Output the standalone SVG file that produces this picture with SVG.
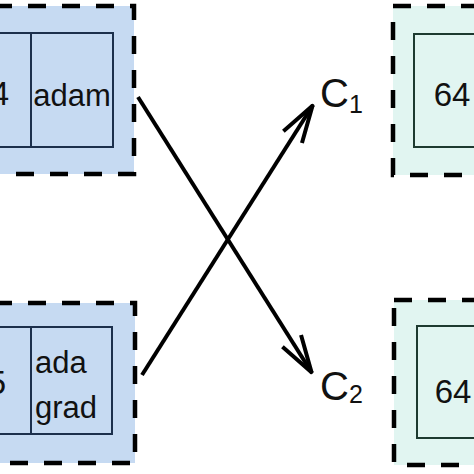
<svg xmlns="http://www.w3.org/2000/svg" width="474" height="474" viewBox="0 0 474 474">
  <defs>
    <style>
      .outerL { fill: #c6daf2; stroke: #000; stroke-width: 4.5; stroke-dasharray: 18 16; }
      .outerR { fill: #e1f5f1; stroke: #000; stroke-width: 4.5; stroke-dasharray: 18 16; }
      .innerL { fill: none; stroke: #1c2f4c; stroke-width: 2; }
      .innerR { fill: none; stroke: #1d3a30; stroke-width: 2; }
      .lbl { font-family: "Liberation Sans", Arial, sans-serif; font-size: 31px; fill: #111; }
      .num { font-family: "Liberation Sans", Arial, sans-serif; font-size: 33px; fill: #111; }
      .c { font-family: "Liberation Sans", Arial, sans-serif; font-size: 40px; fill: #111; }
      .sub { font-family: "Liberation Sans", Arial, sans-serif; font-size: 25px; fill: #111; }
      .edge { stroke: #000; stroke-width: 4; fill: none; }
    </style>
    <marker id="arrow" markerUnits="userSpaceOnUse" viewBox="-45 -15 50 30" markerWidth="50" markerHeight="30" refX="0" refY="0" orient="auto">
      <path d="M -38 -11 L -1 0 L -38 11" fill="none" stroke="#000" stroke-width="4" stroke-linejoin="round" stroke-linecap="butt"/>
    </marker>
  </defs>

  <g id="node-top-left">
    <rect class="outerL" x="-40" y="6" width="174" height="168"/>
    <rect class="innerL" x="-60" y="33" width="173" height="114"/>
    <line class="innerL" x1="31" y1="33" x2="31" y2="147"/>
    <text class="num" x="9" y="105" text-anchor="end">4</text>
    <text class="lbl" x="72" y="106" text-anchor="middle">adam</text>
  </g>

  <g id="node-bottom-left">
    <rect class="outerL" x="-40" y="303" width="175" height="160"/>
    <rect class="innerL" x="-60" y="327" width="172" height="107"/>
    <line class="innerL" x1="31" y1="327" x2="31" y2="434"/>
    <text class="num" x="6" y="394" text-anchor="end">5</text>
    <text class="lbl" x="35" y="373">ada</text>
    <text class="lbl" x="35" y="418">grad</text>
  </g>

  <g id="node-top-right">
    <rect class="outerR" x="393" y="6" width="120" height="169"/>
    <rect class="innerR" x="414" y="34" width="100" height="113"/>
    <text class="num" x="452" y="106" text-anchor="middle">64</text>
  </g>

  <g id="node-bottom-right">
    <rect class="outerR" x="394" y="300" width="120" height="165"/>
    <rect class="innerR" x="417" y="326" width="100" height="112"/>
    <text class="num" x="453" y="403" text-anchor="middle">64</text>
  </g>

  <g id="label-c1">
    <text class="c" x="320" y="107">C<tspan class="sub" dy="6">1</tspan></text>
  </g>
  <g id="label-c2">
    <text class="c" x="320" y="400">C<tspan class="sub" dy="3">2</tspan></text>
  </g>

  <g id="connectors">
    <line class="edge" x1="138" y1="97" x2="312" y2="373" marker-end="url(#arrow)"/>
    <line class="edge" x1="142" y1="375" x2="313" y2="105" marker-end="url(#arrow)"/>
  </g>
</svg>
